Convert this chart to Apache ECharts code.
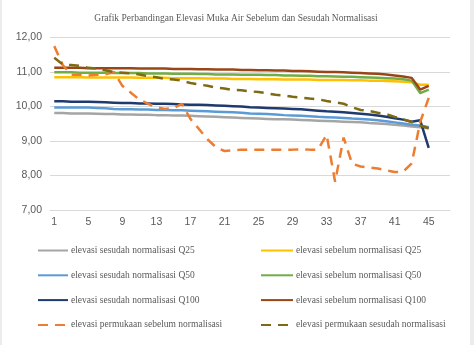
<!DOCTYPE html>
<html>
<head>
<meta charset="utf-8">
<script src="https://cdn.jsdelivr.net/npm/echarts@6/dist/echarts.min.js"></script>
<style>
html,body{margin:0;padding:0;background:#ececec;}
#c{position:absolute;left:2px;top:0;width:468px;height:345px;background:#fff;}
</style>
</head>
<body>
<div id="c"></div>
<script>
const categories = [];
for (let i = 1; i <= 47; i++) categories.push(String(i));

const yTicks = [7, 8, 9, 10, 11, 12];

const sesudahQ25 = [9.81,9.81,9.80,9.80,9.80,9.79,9.78,9.78,9.77,9.77,9.76,9.76,9.75,9.75,9.74,9.74,9.73,9.72,9.71,9.70,9.69,9.68,9.67,9.66,9.65,9.64,9.63,9.63,9.62,9.61,9.60,9.59,9.58,9.57,9.56,9.55,9.54,9.52,9.51,9.49,9.47,9.45,9.42,9.40,9.37];
const sebelumQ25 = [10.85,10.85,10.85,10.85,10.84,10.84,10.84,10.84,10.84,10.84,10.83,10.83,10.83,10.83,10.82,10.82,10.82,10.82,10.81,10.81,10.81,10.80,10.80,10.80,10.79,10.79,10.79,10.78,10.78,10.78,10.78,10.77,10.77,10.77,10.77,10.76,10.76,10.75,10.75,10.74,10.73,10.72,10.70,10.63,10.63];
const sesudahQ50 = [9.97,9.97,9.97,9.97,9.97,9.96,9.95,9.93,9.92,9.92,9.91,9.91,9.90,9.90,9.89,9.89,9.88,9.87,9.86,9.85,9.84,9.83,9.82,9.80,9.79,9.78,9.77,9.75,9.74,9.73,9.72,9.70,9.69,9.68,9.67,9.65,9.64,9.62,9.60,9.57,9.54,9.51,9.47,9.45,9.40];
const sebelumQ50 = [10.99,10.99,10.99,10.98,10.98,10.98,10.98,10.97,10.97,10.97,10.97,10.96,10.96,10.96,10.95,10.95,10.95,10.94,10.94,10.93,10.93,10.93,10.92,10.92,10.92,10.91,10.91,10.90,10.90,10.89,10.89,10.88,10.88,10.87,10.86,10.86,10.85,10.84,10.83,10.82,10.81,10.79,10.75,10.39,10.49];
const sesudahQ100 = [10.15,10.15,10.14,10.14,10.14,10.13,10.12,10.11,10.10,10.10,10.09,10.09,10.08,10.08,10.07,10.06,10.05,10.05,10.04,10.03,10.02,10.01,10.00,9.98,9.97,9.96,9.95,9.94,9.93,9.92,9.90,9.88,9.86,9.85,9.83,9.81,9.79,9.77,9.74,9.70,9.66,9.62,9.56,9.60,8.80];
const sebelumQ100 = [11.12,11.12,11.12,11.12,11.11,11.11,11.11,11.11,11.11,11.11,11.10,11.10,11.10,11.10,11.09,11.09,11.09,11.08,11.08,11.07,11.07,11.07,11.06,11.06,11.05,11.05,11.04,11.04,11.03,11.03,11.02,11.01,11.00,11.00,10.99,10.98,10.97,10.96,10.95,10.93,10.90,10.87,10.83,10.49,10.60];
const permukaanSebelum = [11.75,11.20,10.92,10.92,10.90,10.92,10.93,11.00,10.60,10.40,10.20,10.08,9.98,9.93,9.95,10.08,9.64,9.35,9.05,8.82,8.71,8.73,8.75,8.75,8.75,8.75,8.75,8.75,8.75,8.76,8.75,8.75,9.18,7.82,9.10,8.34,8.26,8.23,8.20,8.15,8.10,8.11,8.35,9.55,10.25];
const permukaanSesudah = [11.41,11.22,11.20,11.18,11.12,11.10,11.05,11.00,10.98,10.96,10.93,10.88,10.85,10.80,10.78,10.75,10.68,10.64,10.60,10.55,10.52,10.48,10.47,10.44,10.42,10.38,10.34,10.32,10.28,10.26,10.23,10.21,10.16,10.12,10.08,9.98,9.90,9.87,9.82,9.78,9.70,9.63,9.55,9.45,9.37];

const names = [
  'elevasi sesudah normalisasi Q25',
  'elevasi sebelum normalisasi Q25',
  'elevasi sesudah normalisasi Q50',
  'elevasi sebelum normalisasi Q50',
  'elevasi sesudah normalisasi Q100',
  'elevasi sebelum normalisasi Q100',
  'elevasi permukaan sebelum normalisasi',
  'elevasi permukaan sesudah normalisasi'
];
const colors = ['#a5a5a5','#ffc000','#5b9bd5','#70ad47','#1f3a6e','#9a4516','#ed7d31','#7f6a14'];
const datas = [sesudahQ25, sebelumQ25, sesudahQ50, sebelumQ50, sesudahQ100, sebelumQ100, permukaanSebelum, permukaanSesudah];

const series = names.map((n, k) => ({
  name: n,
  type: 'line',
  data: datas[k],
  symbol: 'none',
  smooth: false,
  z: k >= 6 ? 5 : 3,
  lineStyle: {
    color: colors[k],
    width: 2.5,
    type: k >= 6 ? [10, 7] : 'solid',
    cap: 'butt'
  },
  itemStyle: { color: colors[k] }
}));

const legendText = { fontFamily: 'Liberation Serif', fontSize: 9.5, color: '#595959', lineHeight: 12, padding: [0,0,0,-2] };

const chart = echarts.init(document.getElementById('c'));
chart.setOption({
  animation: false,
  backgroundColor: '#ffffff',
  title: {
    text: 'Grafik Perbandingan Elevasi Muka Air Sebelum dan Sesudah Normalisasi',
    left: 'center',
    top: 8,
    textStyle: { fontFamily: 'Liberation Serif', fontSize: 9.5, fontWeight: 'normal', color: '#595959' }
  },
  legend: [
    {
      data: [names[0], names[2], names[4], names[6]],
      orient: 'vertical',
      left: 35, top: 244.5, padding: 0,
      itemWidth: 30, itemHeight: 12, itemGap: 12.8,
      selectedMode: false,
      itemStyle: { opacity: 0 },
      textStyle: legendText
    },
    {
      data: [names[1], names[3], names[5], names[7]],
      orient: 'vertical',
      left: 258, top: 244.5, padding: 0,
      itemWidth: 32, itemHeight: 12, itemGap: 12.8,
      selectedMode: false,
      itemStyle: { opacity: 0 },
      textStyle: legendText
    }
  ],
  grid: { left: 48, right: 20, top: 37.5, bottom: 135, containLabel: false },
  xAxis: {
    type: 'category',
    data: categories,
    boundaryGap: true,
    axisLine: { show: true, lineStyle: { color: '#d9d9d9', width: 1 } },
    axisTick: { show: false },
    axisLabel: { interval: 3, color: '#595959', fontFamily: 'Liberation Sans', fontSize: 10.5, margin: 7 }
  },
  yAxis: {
    type: 'value',
    min: yTicks[0],
    max: yTicks[yTicks.length - 1],
    interval: 1,
    axisLine: { show: false },
    axisTick: { show: false },
    splitLine: { lineStyle: { color: '#d9d9d9', width: 1 } },
    axisLabel: {
      color: '#595959', fontFamily: 'Liberation Sans', fontSize: 10.5, margin: 8,
      formatter: v => v.toFixed(2).replace('.', ',')
    }
  },
  series: series
});
</script>
</body>
</html>
